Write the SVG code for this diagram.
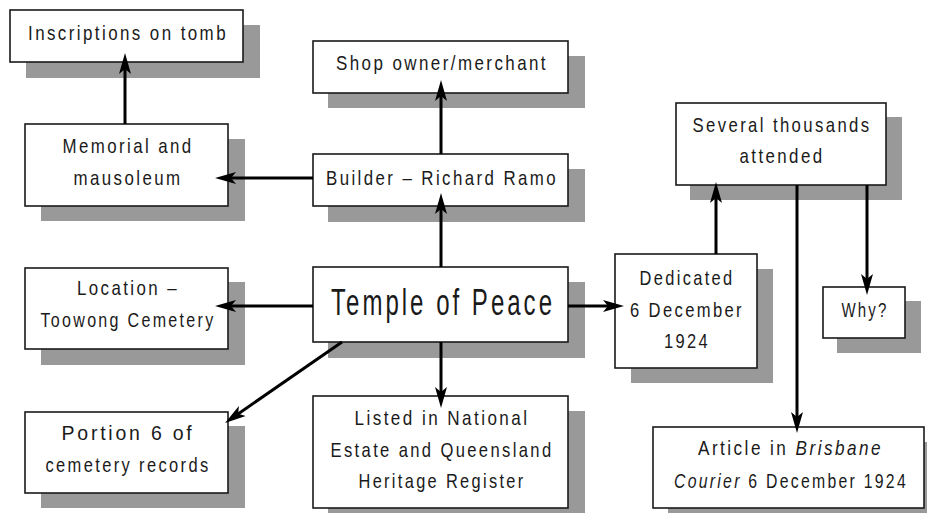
<svg xmlns="http://www.w3.org/2000/svg" width="927" height="513" viewBox="0 0 927 513">
<style>
.sh{fill:#999999}
.bx{fill:#ffffff;stroke:#1a1a1a;stroke-width:1.6}
.t{font-family:"Liberation Sans","Arial",sans-serif;font-size:21px;fill:#1a1a1a;text-anchor:middle;letter-spacing:3px}
.big{font-size:36px;letter-spacing:4.5px}
.it{font-style:italic}
.c{stroke:#000;stroke-width:3;fill:none;marker-end:url(#ah)}
</style>
<defs>
<marker id="ah" markerUnits="userSpaceOnUse" markerWidth="22" markerHeight="14" viewBox="0 0 22 14" refX="13" refY="7" orient="auto">
<path d="M0,1 L21,7 L0,13 L5,7 z" fill="#000"/>
</marker>
</defs>
<rect width="927" height="513" fill="#ffffff"/>

<g id="inscriptions">
<rect class="sh" x="26" y="25" width="234" height="53"/>
<rect class="bx" x="10" y="10" width="233" height="52"/>
<text class="t" x="128" y="40" textLength="200" lengthAdjust="spacingAndGlyphs">Inscriptions on tomb</text>
</g>

<g id="memorial">
<rect class="sh" x="41" y="139" width="204" height="82"/>
<rect class="bx" x="25" y="124" width="203" height="82"/>
<text class="t" x="128" y="153" textLength="131" lengthAdjust="spacingAndGlyphs">Memorial and</text>
<text class="t" x="128" y="185" textLength="109" lengthAdjust="spacingAndGlyphs">mausoleum</text>
</g>

<g id="shop">
<rect class="sh" x="328" y="56" width="257" height="52"/>
<rect class="bx" x="313" y="41" width="255" height="52"/>
<text class="t" x="442" y="70" textLength="212" lengthAdjust="spacingAndGlyphs">Shop owner/merchant</text>
</g>

<g id="builder">
<rect class="sh" x="328" y="169" width="257" height="53"/>
<rect class="bx" x="313" y="154" width="255" height="52"/>
<text class="t" x="442" y="185" textLength="232" lengthAdjust="spacingAndGlyphs">Builder – Richard Ramo</text>
</g>

<g id="location">
<rect class="sh" x="41" y="282" width="204" height="83"/>
<rect class="bx" x="25" y="268" width="203" height="81"/>
<text class="t" x="128" y="295" textLength="102" lengthAdjust="spacingAndGlyphs">Location –</text>
<text class="t" x="128" y="327" textLength="175" lengthAdjust="spacingAndGlyphs">Toowong Cemetery</text>
</g>

<g id="temple">
<rect class="sh" x="328" y="282" width="257" height="76"/>
<rect class="bx" x="313" y="267" width="255" height="75"/>
<text class="t big" x="443" y="315" textLength="224" lengthAdjust="spacingAndGlyphs">Temple of Peace</text>
</g>

<g id="portion">
<rect class="sh" x="41" y="426" width="204" height="82"/>
<rect class="bx" x="25" y="412" width="203" height="81"/>
<text class="t" x="128" y="440" textLength="133" lengthAdjust="spacingAndGlyphs">Portion 6 of</text>
<text class="t" x="128" y="472" textLength="165" lengthAdjust="spacingAndGlyphs">cemetery records</text>
</g>

<g id="listed">
<rect class="sh" x="328" y="411" width="257" height="112"/>
<rect class="bx" x="313" y="396" width="255" height="112"/>
<text class="t" x="442" y="425" textLength="175" lengthAdjust="spacingAndGlyphs">Listed in National</text>
<text class="t" x="442" y="457" textLength="223" lengthAdjust="spacingAndGlyphs">Estate and Queensland</text>
<text class="t" x="442" y="488" textLength="167" lengthAdjust="spacingAndGlyphs">Heritage Register</text>
</g>

<g id="dedicated">
<rect class="sh" x="631" y="269" width="142" height="114"/>
<rect class="bx" x="615" y="254" width="142" height="114"/>
<text class="t" x="687" y="285" textLength="95" lengthAdjust="spacingAndGlyphs">Dedicated</text>
<text class="t" x="687" y="317" textLength="114" lengthAdjust="spacingAndGlyphs">6 December</text>
<text class="t" x="687" y="348" textLength="46" lengthAdjust="spacingAndGlyphs">1924</text>
</g>

<g id="several">
<rect class="sh" x="690" y="117" width="212" height="83"/>
<rect class="bx" x="676" y="103" width="210" height="82"/>
<text class="t" x="782" y="132" textLength="179" lengthAdjust="spacingAndGlyphs">Several thousands</text>
<text class="t" x="782" y="163" textLength="85" lengthAdjust="spacingAndGlyphs">attended</text>
</g>

<g id="why">
<rect class="sh" x="837" y="301" width="84" height="52"/>
<rect class="bx" x="823" y="287" width="82" height="51"/>
<text class="t" x="865" y="317" textLength="47" lengthAdjust="spacingAndGlyphs">Why?</text>
</g>

<g id="article">
<rect class="sh" x="668" y="442" width="259" height="71"/>
<rect class="bx" x="653" y="427" width="271" height="81"/>
<text class="t" x="790.5" y="455" textLength="185" lengthAdjust="spacingAndGlyphs">Article in <tspan class="it">Brisbane</tspan></text>
<text class="t" x="791" y="488" textLength="234" lengthAdjust="spacingAndGlyphs"><tspan class="it">Courier</tspan> 6 December 1924</text>
</g>

<g id="connectors">
<line class="c" x1="125" y1="124" x2="125" y2="61"/>
<line class="c" x1="313" y1="178" x2="223" y2="178"/>
<line class="c" x1="441" y1="154" x2="441" y2="88"/>
<line class="c" x1="441" y1="267" x2="441" y2="201"/>
<line class="c" x1="313" y1="306" x2="223" y2="306"/>
<line class="c" x1="342" y1="342" x2="231.6" y2="418.4"/>
<line class="c" x1="441" y1="342" x2="441" y2="400"/>
<line class="c" x1="568" y1="306" x2="616" y2="306"/>
<line class="c" x1="716" y1="254" x2="716" y2="190"/>
<line class="c" x1="867" y1="185" x2="867" y2="287"/>
<line class="c" x1="797" y1="185" x2="797" y2="425"/>
</g>
</svg>
